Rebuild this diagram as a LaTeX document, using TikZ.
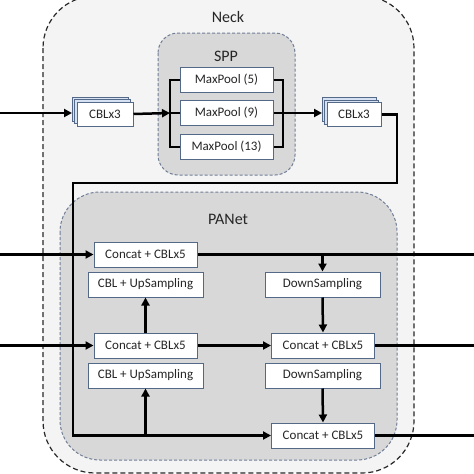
\documentclass[tikz,border=0pt]{standalone}
\usepackage{fontspec}
\setmainfont{Carlito}
\usetikzlibrary{arrows.meta}
\definecolor{boxborder}{RGB}{84,104,136}
\definecolor{cblback}{RGB}{214,225,243}
\definecolor{groupfill}{RGB}{216,216,216}
\definecolor{groupborder}{RGB}{112,126,150}
\definecolor{neckfill}{RGB}{244,244,244}
\definecolor{neckborder}{RGB}{40,40,40}
\begin{document}
\begin{tikzpicture}[x=1pt,y=-1pt,
  box/.style={draw=boxborder,line width=1pt,fill=white,inner sep=0pt,text=black!85,font=\fontsize{13}{15}\selectfont},
  concatbox/.style={box,minimum width=103pt,minimum height=25pt},
  sampbox/.style={box,minimum width=115pt,minimum height=25pt},
  poolbox/.style={box,minimum width=93pt,minimum height=25pt},
  cblbox/.style={box,minimum width=56pt,minimum height=24pt},
  cblshadow/.style={draw=boxborder,line width=1pt,fill=cblback},
  title/.style={font=\fontsize{16}{18}\selectfont,inner sep=0pt,text=black!85},
  conn/.style={line width=2.5pt,black},
  arr/.style={conn,-{Triangle[length=8pt,width=8pt]}},
  group/.style={draw=groupborder,line width=1pt,dash pattern=on 3pt off 2pt,fill=groupfill},
  neck/.style={draw=neckborder,line width=1.2pt,dash pattern=on 5pt off 3pt,fill=neckfill}
]
\useasboundingbox (0,0) rectangle (474,474);
% Neck
\draw[neck,rounded corners=52pt] (43,-4) rectangle (414,473);
\node[title] (necklabel) at (228,17) {Neck};
% SPP
\draw[group,rounded corners=20pt] (158,33) rectangle (295,175);
\node[title] (spplabel) at (226,56) {SPP};
% PANet
\draw[group,rounded corners=40pt] (60,192) rectangle (397,460);
\node[title] (panetlabel) at (228,219) {PANet};

% CBLx3 left
\draw[cblshadow] (72,97) rectangle (128,121);
\draw[cblshadow] (74.5,99.5) rectangle (130.5,123.5);
\node[cblbox] (cblL) at (105,114) {CBLx3};
% CBLx3 right
\draw[cblshadow] (322,97.5) rectangle (376,121.5);
\draw[cblshadow] (324.5,100) rectangle (378.5,124);
\node[cblbox,minimum width=54pt] (cblR) at (354,114.5) {CBLx3};

% MaxPools
\node[poolbox] (mp5) at (226.5,80) {MaxPool (5)};
\node[poolbox] (mp9) at (226.5,113) {MaxPool (9)};
\node[poolbox] (mp13) at (226.5,147) {MaxPool (13)};

% PANet boxes
\node[concatbox] (c1) at (145.5,254.5) {Concat + CBLx5};
\node[sampbox] (up1) at (145.5,284.5) {CBL + UpSampling};
\node[sampbox] (dn1) at (322.5,284.5) {DownSampling};
\node[concatbox] (c2) at (145.5,345.5) {Concat + CBLx5};
\node[concatbox] (c3) at (323,345.5) {Concat + CBLx5};
\node[sampbox] (up2) at (145.5,375.5) {CBL + UpSampling};
\node[sampbox] (dn2) at (322.5,375.5) {DownSampling};
\node[concatbox] (c4) at (323,435.5) {Concat + CBLx5};

% coordinates
\coordinate (in1) at (0,113);
\coordinate (in2) at (0,254.5);
\coordinate (in3) at (0,345.5);
\coordinate (out1) at (474,254.5);
\coordinate (out2) at (474,345.5);
\coordinate (out3) at (474,435.5);
\coordinate (bl) at (170,113);
\coordinate (br) at (283,113);
\coordinate (rr) at (397,114.5);
\coordinate (rd) at (397,183);
\coordinate (ld) at (73,183);
\coordinate (lb) at (73,435.5);
\coordinate (branch) at (145.5,435.5);
\coordinate (split) at (322.5,254.5);

% SPP connections
\draw[arr] (in1) -- (72,113);
\draw[arr] (cblL.east) -- (bl);
\draw[conn] (bl) -- (mp9.west);
\draw[conn] (mp5.west) -| (bl) |- (mp13.west);
\draw[conn] (mp5.east) -| (br) |- (mp13.east);
\draw[arr] (mp9.east) -- (322,113);
\draw[conn,line join=miter] (cblR.east) -- (rr) -- (rd) -- (ld) -- (lb) -- (branch);
\draw[arr] (branch) -- (c4.west);
\draw[arr] (branch) -- (up2.south);

% PANet connections
\draw[arr] (in2) -- (c1.west);
\draw[conn] (c1.east) -- (out1);
\draw[arr] (split) -- (dn1.north);
\draw[arr] (c2.north) -- (up1.south);
\draw[arr] (dn1.south) -- (c3.north);
\draw[arr] (in3) -- (c2.west);
\draw[arr] (c2.east) -- (c3.west);
\draw[conn] (c3.east) -- (out2);
\draw[arr] (dn2.south) -- (c4.north);
\draw[conn] (c4.east) -- (out3);
\end{tikzpicture}
\end{document}
